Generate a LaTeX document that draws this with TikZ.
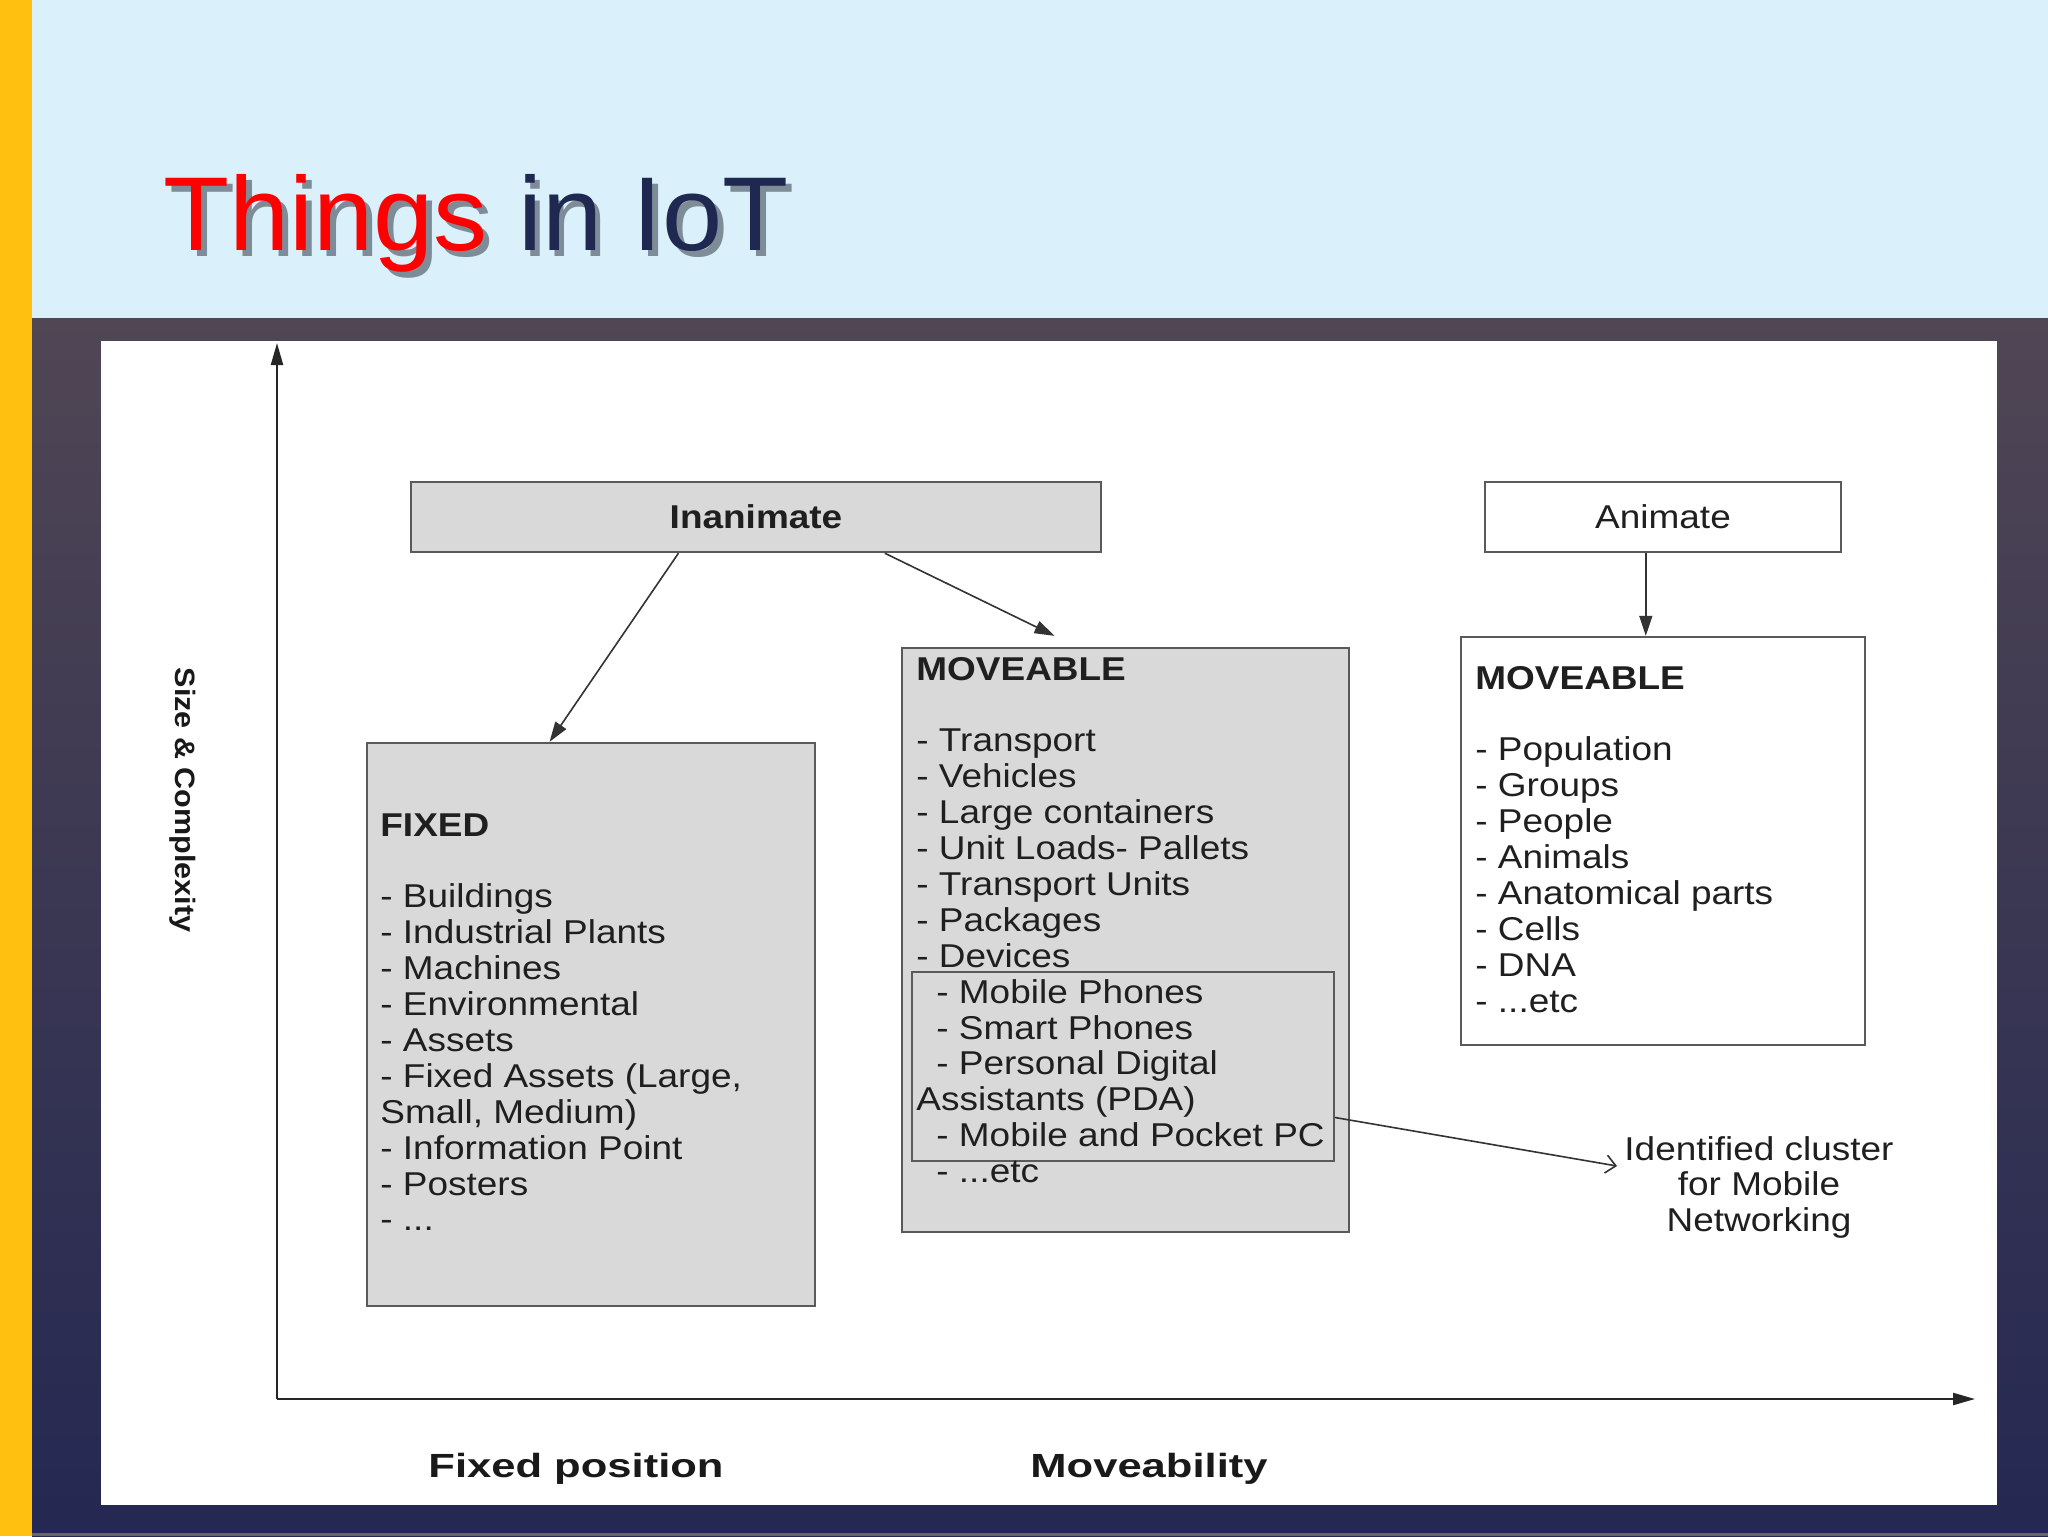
\documentclass[tikz,border=0pt]{standalone}
\usepackage{fontspec}
\setmainfont{Liberation Sans}
\newfontfamily\diagfont[FakeStretch=1.12]{Liberation Sans}
\newfontfamily\titlefont[FakeStretch=1.03]{Liberation Sans}
\newfontfamily\axisfont[FakeStretch=1.3]{Liberation Sans}
\newfontfamily\yaxisfont[FakeStretch=1.09]{Liberation Sans}
\usetikzlibrary{arrows.meta,calc}
\definecolor{hdr}{RGB}{218,240,250}
\definecolor{slideyellow}{RGB}{255,192,16}
\definecolor{bandtop}{RGB}{80,70,84}
\definecolor{bandbot}{RGB}{36,40,82}
\definecolor{ttlred}{RGB}{255,0,0}
\definecolor{ttlnavy}{RGB}{31,40,80}
\definecolor{ttlshadow}{RGB}{125,140,150}
\definecolor{boxfill}{RGB}{217,217,217}
\definecolor{boxline}{RGB}{90,90,90}
\newcommand\itemlist[1]{\begin{tabular}[t]{@{}l@{}}#1\end{tabular}}
\newcommand\centlist[1]{\begin{tabular}[t]{@{}c@{}}#1\end{tabular}}
\begin{document}
\begin{tikzpicture}[x=0.5pt,y=-0.5pt,
  box/.style={draw=boxline, line width=1.2pt, rectangle, inner sep=0pt},
  greybox/.style={box, fill=boxfill},
  whitebox/.style={box, fill=white},
  dfont/.style={font=\diagfont\fontsize{16.5pt}{17.95pt}\selectfont, text=black!88},
  dtext/.style={dfont, inner sep=0pt},
  conn/.style={line width=0.8pt, draw=black!80, -{Triangle[length=10pt,width=6.5pt]}},
  openconn/.style={line width=0.8pt, draw=black!80, -{Straight Barb[length=5pt,width=9pt]}},
  axisline/.style={line width=1.1pt, draw=black!85, -{Triangle[length=11pt,width=6pt]}},
  axlabel/.style={font=\axisfont\bfseries\fontsize{16.75pt}{20pt}\selectfont, inner sep=0pt, text=black!90},
  ttlstyle/.style={font=\titlefont\fontsize{52.5pt}{60pt}\selectfont, inner sep=0pt, anchor=base west},
]
\useasboundingbox (0,0) rectangle (2048,1536);
% background
\fill[fill=hdr] (0,0) rectangle (2048,318);
\shade[top color=bandtop,bottom color=bandbot] (32,318) rectangle (2048,1536);
\fill[fill=black!60] (32,1533) rectangle (2048,1536);
\fill[fill=slideyellow] (0,0) rectangle (32,1536);
\fill[fill=white] (101,341) rectangle (1997,1505);
% title
\node[ttlstyle, text=ttlshadow] (ttlsh) at (169,256) {Things in IoT};
\node[ttlstyle] (ttl) at (163,250) {\textcolor{ttlred}{Things} \textcolor{ttlnavy}{in IoT}};
% axes
\coordinate (orig) at (277,1399);
\coordinate (ytop) at (277,343);
\coordinate (xend) at (1975,1399);
\draw[axisline] (orig) -- (ytop);
\draw[axisline] (orig) -- (xend);
\node[axlabel, anchor=base west] (lfix) at (428,1477) {Fixed position};
\node[axlabel, anchor=base west] (lmov) at (1030,1477) {Moveability};
\node[font=\yaxisfont\bfseries\fontsize{14pt}{16pt}\selectfont, rotate=-90, inner sep=0pt, text=black!90] (lsize) at (183,800) {Size \& Complexity};
% top boxes
\node[greybox, dfont, minimum width=345pt, minimum height=35pt, font=\diagfont\bfseries\fontsize{16.5pt}{17.95pt}\selectfont] (inan) at (756,517) {Inanimate};
\node[whitebox, dfont, minimum width=178pt, minimum height=35pt] (anim) at (1663,517) {Animate};
% fixed box
\node[greybox, minimum width=224pt, minimum height=281.5pt] (fixed) at (591,1024.5) {};
\node[dtext, anchor=base west] (fixedtxt) at (380,836) {\itemlist{\textbf{FIXED}\\ \\
- Buildings\\ - Industrial Plants\\ - Machines\\ - Environmental\\ - Assets\\
- Fixed Assets (Large,\\ Small, Medium)\\ - Information Point\\ - Posters\\ - ...}};
% middle moveable box
\node[greybox, minimum width=223.5pt, minimum height=292pt] (mmid) at (1125.5,940) {};
\node[box, line width=1pt, minimum width=211pt, minimum height=94.5pt] (clus) at (1123,1066.5) {};
\node[dtext, anchor=base west] (mmidtxt) at (916,680) {\itemlist{\textbf{MOVEABLE}\\ \\
- Transport\\ - Vehicles\\ - Large containers\\ - Unit Loads- Pallets\\ - Transport Units\\
- Packages\\ - Devices\\ \hspace*{10pt}- Mobile Phones\\ \hspace*{10pt}- Smart Phones\\
\hspace*{10pt}- Personal Digital\\ Assistants (PDA)\\ \hspace*{10pt}- Mobile and Pocket PC\\
\hspace*{10pt}- ...etc}};
% right moveable box
\node[whitebox, minimum width=202pt, minimum height=204pt] (mright) at (1663,841) {};
\node[dtext, anchor=base west] (mrighttxt) at (1475,689) {\itemlist{\textbf{MOVEABLE}\\ \\
- Population\\ - Groups\\ - People\\ - Animals\\ - Anatomical parts\\ - Cells\\ - DNA\\ - ...etc}};
% cluster label
\node[dtext, anchor=base] (clbl) at (1759,1160) {\centlist{Identified cluster\\ for Mobile\\ Networking}};
% connectors
\draw[conn] ($(inan.south west)!0.388!(inan.south east)$) -- ($(fixed.north west)!0.408!(fixed.north east)$);
\draw[conn, shorten >=12.5pt] ($(inan.south west)!0.686!(inan.south east)$) -- ($(mmid.north west)!0.392!(mmid.north east)$);
\coordinate (aS) at ($(anim.south west)!0.452!(anim.south east)$);
\draw[conn] (aS) -- (aS |- mright.north);
\draw[openconn] ($(clus.north east)!0.767!(clus.south east)$) -- ($(clbl.base west)+(-7,6)$);
\end{tikzpicture}
\end{document}
